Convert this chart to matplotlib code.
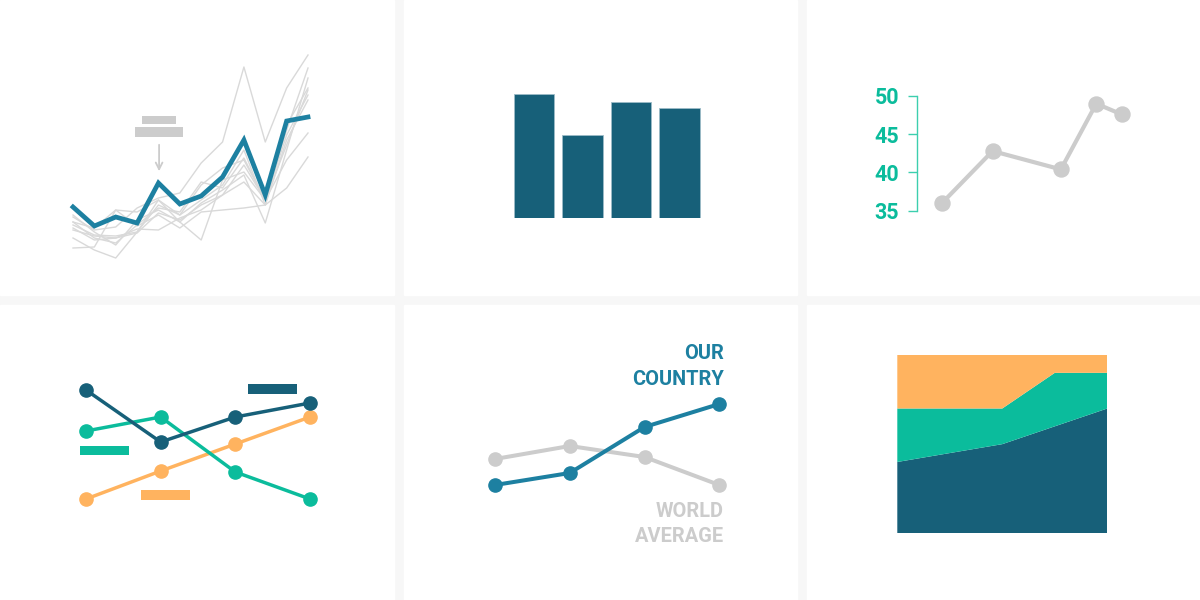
import numpy as np
import matplotlib.pyplot as plt
from matplotlib.patches import Rectangle

plt.rcParams['font.family'] = ['Roboto', 'DejaVu Sans']

W, H = 1200, 600

DARK = '#176079'
BLUE = '#1d80a1'
TEAL = '#0bbc9c'
ORANGE = '#ffb35f'
GRAY = '#cccccc'
LIGHT = '#d9d9d9'

# --- panel 1: highlighted series among many ---
p1_x = np.arange(12)
p1_blue = [88, 69, 78, 72, 112, 91, 99, 118, 155, 100, 174, 178]
p1_gray = [
    [78, 65, 68, 87, 97, 102, 132, 153, 228, 153, 207, 240],
    [73, 67, 85, 83, 95, 80, 110, 127, 135, 95, 165, 227],
    [70, 60, 59, 63, 90, 80, 95, 110, 145, 90, 170, 207],
    [65, 59, 57, 62, 82, 75, 90, 100, 130, 95, 160, 200],
    [80, 63, 50, 75, 85, 73, 55, 115, 123, 95, 135, 162],
    [67, 55, 57, 66, 65, 77, 85, 100, 113, 90, 107, 138],
    [47, 48, 85, 69, 80, 67, 83, 85, 87, 90, 155, 195],
    [57, 45, 37, 63, 95, 73, 92, 105, 120, 72, 145, 217],
    [73, 57, 52, 70, 87, 83, 113, 107, 137, 95, 150, 205],
]

# --- panel 2: bars ---
p2_x = np.arange(4)
p2_vals = [124, 83, 116, 110]

# --- panel 3: axis with dots ---
p3_x = [1, 3, 5.7, 7.1, 8.1]
p3_vals = [36, 42.8, 40.4, 49.0, 47.6]
p3_ticks = [35, 40, 45, 50]

# --- panel 4: three crossing series ---
p4_x = np.arange(4)
p4_dark = [120, 68, 93, 107]
p4_teal = [79, 93, 38, 11]
p4_orange = [11, 39, 66, 93]

# --- panel 5: our country vs world ---
p5_x = np.arange(4)
p5_world = [41, 54, 43, 15]
p5_country = [15, 27, 73, 96]

# --- panel 6: stacked area ---
p6_x = [0, 2, 3, 4]
p6_dark = [40, 50, 60, 70]
p6_teal = [30, 20, 30, 20]
p6_orange = [30, 30, 10, 10]


def px_axes(fig, x0, y0, x1, y1):
    ax = fig.add_axes([x0 / W, 1 - y1 / H, (x1 - x0) / W, (y1 - y0) / H])
    ax.set_facecolor('none')
    return ax


def fig_xy(x, y):
    return x / W, 1 - y / H


fig = plt.figure(figsize=(12, 6), dpi=100, facecolor='#f7f7f7')

# white panel backgrounds
cols = [(0, 393.5), (403.5, 797), (807, 1200)]
rows = [(0, 295), (304.5, 600)]
for (y0, y1) in rows:
    for (x0, x1) in cols:
        fig.add_artist(Rectangle((x0 / W, 1 - y1 / H), (x1 - x0) / W, (y1 - y0) / H,
                                 transform=fig.transFigure, color='white', zorder=0))

# panel 1
ax = px_axes(fig, 73, 0, 308, 295)
for g in p1_gray:
    ax.plot(p1_x, g, color=LIGHT, lw=1.0, clip_on=False)
ax.plot(p1_x, p1_blue, color=BLUE, lw=3.4, clip_on=False, solid_joinstyle='miter')
ax.add_patch(Rectangle((3.23, 171), 1.59, 8, color=GRAY, lw=0))
ax.add_patch(Rectangle((2.90, 158), 2.25, 10, color=GRAY, lw=0))
ax.annotate('', xy=(4.03, 121), xytext=(4.03, 153),
            arrowprops=dict(arrowstyle='->', color=GRAY, lw=1.3, mutation_scale=12))
ax.set_xlim(0, 11)
ax.set_ylim(0, 295)
ax.axis('off')

# panel 2
ax = px_axes(fig, 509.75, 94, 703.75, 218)
ax.bar(p2_x, p2_vals, width=0.825, color=DARK, edgecolor='#9dbcc8', linewidth=0.6)
ax.set_xlim(-0.5, 3.5)
ax.set_ylim(0, 124)
ax.axis('off')

# panel 3
ax = px_axes(fig, 916.7, 96, 1131.7, 210.7)
ax.plot(p3_x, p3_vals, color=GRAY, lw=3, marker='o', ms=10.8, clip_on=False)
ax.set_xlim(0, 8.5)
ax.set_ylim(35, 50)
for s in ['top', 'right', 'bottom']:
    ax.spines[s].set_visible(False)
ax.spines['left'].set_color('#3ccfae')
ax.spines['left'].set_linewidth(1.0)
ax.spines['left'].set_bounds(35, 50)
ax.set_xticks([])
ax.set_yticks(p3_ticks)
ax.tick_params(axis='y', color='#3ccfae', labelcolor=TEAL, length=6.5, width=1.0,
               pad=6, labelsize=15.5)
for lab in ax.get_yticklabels():
    lab.set_fontweight('semibold')

# panel 4
ax = px_axes(fig, 86, 380, 310, 510)
ax.plot(p4_x, p4_orange, color=ORANGE, lw=2.5, marker='o', ms=9.5, clip_on=False)
ax.plot(p4_x, p4_teal, color=TEAL, lw=2.5, marker='o', ms=9.5, clip_on=False)
ax.plot(p4_x, p4_dark, color=DARK, lw=2.5, marker='o', ms=9.5, clip_on=False)
ax.add_patch(Rectangle((2.165, 115.7), 0.661, 10, color=DARK, lw=0, clip_on=False))
ax.add_patch(Rectangle((-0.084, 54.7), 0.66, 9.6, color=TEAL, lw=0, clip_on=False))
ax.add_patch(Rectangle((0.742, 10), 0.656, 10, color=ORANGE, lw=0, clip_on=False))
ax.set_xlim(0, 3)
ax.set_ylim(0, 130)
ax.axis('off')

# panel 5
ax = px_axes(fig, 495, 400, 719.3, 500)
ax.plot(p5_x, p5_world, color=GRAY, lw=2.9, marker='o', ms=9.5, clip_on=False)
ax.plot(p5_x, p5_country, color=BLUE, lw=2.9, marker='o', ms=9.5, clip_on=False)
ax.set_xlim(0, 3)
ax.set_ylim(0, 100)
ax.axis('off')
for txt, y, c in [('OUR', 359.3, BLUE), ('COUNTRY', 385, BLUE),
                  ('WORLD', 516.7, GRAY), ('AVERAGE', 541.7, GRAY)]:
    fig.text(*fig_xy(724, y), txt, ha='right', va='baseline', color=c,
             fontsize=14.4, fontweight='bold')

# panel 6
ax = px_axes(fig, 897.3, 355, 1107.3, 533.3)
ax.stackplot(p6_x, p6_dark, p6_teal, p6_orange, colors=[DARK, TEAL, ORANGE], lw=0)
ax.set_xlim(0, 4)
ax.set_ylim(0, 100)
ax.axis('off')

fig.savefig('out.png', dpi=100, facecolor=fig.get_facecolor())
